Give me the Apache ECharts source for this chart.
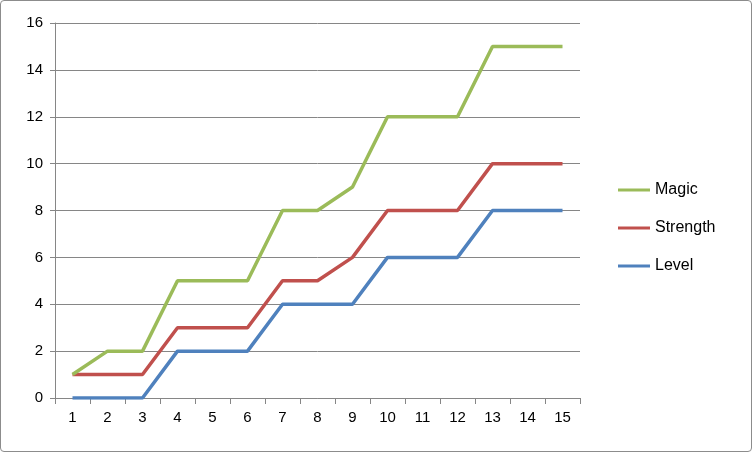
<!DOCTYPE html>
<html><head><meta charset="utf-8">
<script src="https://cdn.jsdelivr.net/npm/echarts@6/dist/echarts.min.js"></script>
<style>html,body{margin:0;padding:0;background:#fff}
#c{position:absolute;left:0;top:0;width:750px;height:450px;border:1px solid #8c8c8c;border-radius:4px}</style>
</head><body><div id="c"></div>
<script>
const categories=['1','2','3','4','5','6','7','8','9','10','11','12','13','14','15'];
const level=[0,0,0,2,2,2,4,4,4,6,6,6,8,8,8];
const strength=[1,1,1,3,3,3,5,5,6,8,8,8,10,10,10];
const magic=[1,2,2,5,5,5,8,8,9,12,12,12,15,15,15];
const chart=echarts.init(document.getElementById('c'));
const font='Liberation Sans';
function s(name,data,color){return {name,type:'line',data,symbol:'none',lineStyle:{width:3.5,color},itemStyle:{color},animation:false};}
chart.setOption({
 textStyle:{fontFamily:font},
 grid:{left:54,right:171,top:22,bottom:53},
 xAxis:{type:'category',data:categories,boundaryGap:true,
  axisLine:{lineStyle:{color:'#868686'}},axisTick:{show:true,length:6,lineStyle:{color:'#868686'}},
  axisLabel:{color:'#000',fontSize:15,margin:12}},
 yAxis:{type:'value',min:0,max:16,interval:2,
  axisLine:{show:true,lineStyle:{color:'#868686'}},axisTick:{show:true,length:5,lineStyle:{color:'#868686'}},
  splitLine:{lineStyle:{color:'#868686'}},axisLabel:{color:'#000',fontSize:15,margin:12}},
 legend:{orient:'vertical',left:612,top:176,itemGap:22,itemWidth:32,itemHeight:3,icon:'rect',
  textStyle:{fontSize:16,color:'#000'},data:['Magic','Strength','Level']},
 series:[s('Level',level,'#4f81bd'),s('Strength',strength,'#c0504d'),s('Magic',magic,'#9bbb59')]
});
</script></body></html>
